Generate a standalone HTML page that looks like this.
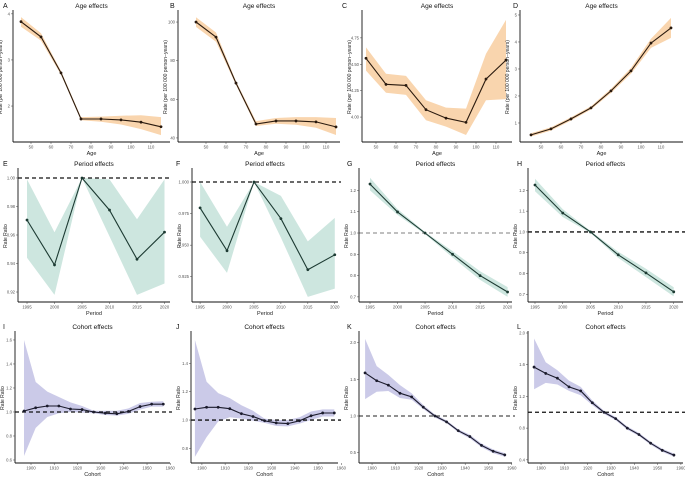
<!DOCTYPE html>
<html><head><meta charset="utf-8">
<style>
html,body{margin:0;padding:0;background:#fff;}
svg{display:block;font-family:"Liberation Sans",sans-serif;}
</style></head>
<body>
<svg id="fig" width="685" height="480" viewBox="0 0 685 480" xmlns="http://www.w3.org/2000/svg"></svg>
<script>
// ---- Age effects data ----
const ageCats=[45,55,65,75,85,95,105,115];
const ageTicks=[50,60,70,80,90,100,110];
const aY=[3.83,3.5,2.72,1.72,1.72,1.70,1.65,1.55];
const aLo=[3.72,3.42,2.68,1.69,1.66,1.60,1.50,1.37];
const aHi=[3.93,3.58,2.76,1.76,1.77,1.79,1.80,1.76];
const aYt=[2,3,4];
const bY=[100,92.2,68.4,47.2,48.8,48.8,48.3,45.7];
const bLo=[97.5,89.8,67.4,46.2,47.3,46.8,45.3,41.5];
const bHi=[102.5,94.6,69.4,48.7,50.3,50.8,50.8,50.3];
const bYt=[40,60,80,100];
const cY=[4.557,4.31,4.30,4.07,3.99,3.95,4.36,4.54];
const cLo=[4.44,4.23,4.21,3.97,3.91,3.83,4.16,4.17];
const cHi=[4.66,4.41,4.39,4.16,4.09,4.08,4.60,4.92];
const cYt=[4.00,4.25,4.50,4.75];
const dY=[0.56,0.78,1.15,1.56,2.19,2.93,3.96,4.52];
const dLo=[0.50,0.72,1.09,1.50,2.11,2.82,3.78,4.15];
const dHi=[0.62,0.84,1.21,1.62,2.27,3.04,4.12,4.89];
const dYt=[1,2,3,4,5];
// ---- Period effects data ----
const perCats=[1995,2000,2005,2010,2015,2020];
const perTicks=[1995,2000,2005,2010,2015,2020];
const eY=[0.9705,0.939,1.0,0.9775,0.943,0.962];
const eLo=[0.944,0.918,1.0,0.959,0.918,0.926];
const eHi=[0.999,0.962,1.0,0.999,0.971,0.999];
const eYt=[0.92,0.94,0.96,0.98,1.00];
const fY=[0.9795,0.9456,1.0,0.971,0.9306,0.9424];
const fLo=[0.9566,0.928,1.0,0.956,0.909,0.9156];
const fHi=[1.0,0.9645,1.0,0.989,0.953,0.9716];
const fYt=[0.925,0.950,0.975,1.000];
const gY=[1.23,1.099,1.0,0.90,0.80,0.723];
const gLo=[1.20,1.085,0.995,0.885,0.78,0.70];
const gHi=[1.26,1.113,1.005,0.915,0.82,0.746];
const gYt=[0.7,0.8,0.9,1.0,1.1,1.2];
const hY=[1.226,1.091,1.0,0.89,0.803,0.712];
const hLo=[1.196,1.072,0.995,0.875,0.783,0.69];
const hHi=[1.256,1.11,1.005,0.905,0.823,0.734];
const hYt=[0.7,0.8,0.9,1.0,1.1,1.2];
// ---- Cohort effects data ----
const cohCats=[1897,1902,1907,1912,1917,1922,1927,1932,1937,1942,1947,1952,1957];
const cohTicks=[1900,1910,1920,1930,1940,1950,1960];
const iY=[1.008,1.035,1.05,1.05,1.025,1.02,1.0,0.99,0.985,1.005,1.045,1.065,1.065];
const iLo=[0.633,0.867,0.958,0.99,1.0,0.995,0.99,0.975,0.97,0.985,1.02,1.045,1.045];
const iHi=[1.6,1.25,1.17,1.125,1.08,1.05,1.01,1.01,1.01,1.03,1.075,1.085,1.09];
const iYt=[0.6,0.8,1.0,1.2,1.4,1.6];
const jY=[1.078,1.09,1.09,1.08,1.045,1.025,0.995,0.98,0.975,0.995,1.03,1.05,1.05];
const jLo=[0.74,0.88,0.99,1.02,1.01,0.995,0.98,0.958,0.955,0.975,1.0,1.025,1.025];
const jHi=[1.565,1.27,1.19,1.155,1.105,1.065,1.01,1.0,1.0,1.02,1.06,1.075,1.075];
const jYt=[0.8,1.0,1.2,1.4];
const kY=[1.587,1.48,1.42,1.31,1.26,1.12,1.0,0.92,0.80,0.72,0.60,0.52,0.47];
const kLo=[1.23,1.33,1.34,1.245,1.22,1.095,0.98,0.9,0.78,0.695,0.575,0.495,0.445];
const kHi=[2.05,1.68,1.56,1.42,1.31,1.15,1.02,0.94,0.82,0.745,0.625,0.545,0.495];
const kYt=[0.5,1.0,1.5,2.0];
const lY=[1.57,1.49,1.43,1.32,1.27,1.12,1.0,0.92,0.80,0.72,0.61,0.52,0.46];
const lLo=[1.29,1.37,1.35,1.27,1.215,1.09,0.98,0.9,0.78,0.70,0.59,0.50,0.44];
const lHi=[1.93,1.63,1.53,1.40,1.32,1.15,1.02,0.94,0.82,0.74,0.63,0.54,0.48];
const lYt=[0.4,0.8,1.2,1.6,2.0];

const NS="http://www.w3.org/2000/svg";
const svg=document.getElementById('fig');
function mk(tag,attrs,parent){const e=document.createElementNS(NS,tag);for(const k in attrs)e.setAttribute(k,attrs[k]);(parent||svg).appendChild(e);return e;}

const ORANGE={band:'#f9d5ae',line:'#2a1a0e'};
const TEAL={band:'#cde6df',line:'#1c3a32'};
const PURP={band:'#cbcae8',line:'#1b1b2c'};
const AGEL='Rate (per 100 000 person−years)';

const panels=[
 {id:'a',letter:'A',title:'Age effects',L:13,R:170,T:12,B:142,xd:[41,119.5],yd:[1.22,4.04],xs:ageCats,y:aY,lo:aLo,hi:aHi,yt:aYt,xt:ageTicks,c:ORANGE,xl:'Age',yl:AGEL,lx:3,dash:null,fmt:v=>String(v)},
 {id:'b',letter:'B',title:'Age effects',L:178,R:340,T:12,B:142,xd:[36,117],yd:[37.9,105.2],xs:ageCats,y:bY,lo:bLo,hi:bHi,yt:bYt,xt:ageTicks,c:ORANGE,xl:'Age',yl:AGEL,lx:170,dash:null,fmt:v=>String(v)},
 {id:'c',letter:'C',title:'Age effects',L:362,R:512,T:12,B:142,xd:[43,118],yd:[3.764,4.995],xs:ageCats,y:cY,lo:cLo,hi:cHi,yt:cYt,xt:ageTicks,c:ORANGE,xl:'Age',yl:AGEL,lx:342,dash:null,fmt:v=>v.toFixed(2)},
 {id:'d',letter:'D',title:'Age effects',L:520,R:683,T:12,B:142,xd:[39.5,121],yd:[0.296,5.11],xs:ageCats,y:dY,lo:dLo,hi:dHi,yt:dYt,xt:ageTicks,c:ORANGE,xl:'Age',yl:AGEL,lx:513,dash:null,fmt:v=>String(v)},
 {id:'e',letter:'E',title:'Period effects',L:18,R:170,T:170,B:302,xd:[1993.36,2021],yd:[0.913,1.0056],xs:perCats,y:eY,lo:eLo,hi:eHi,yt:eYt,xt:perTicks,c:TEAL,xl:'Period',yl:'Rate Ratio',lx:3,dash:{v:1,col:'#111',w:1.3,to:172},fmt:v=>v.toFixed(2)},
 {id:'f',letter:'F',title:'Period effects',L:192,R:338,T:170,B:302,xd:[1993.5,2020.6],yd:[0.905,1.0095],xs:perCats,y:fY,lo:fLo,hi:fHi,yt:fYt,xt:perTicks,c:TEAL,xl:'Period',yl:'Rate Ratio',lx:176,dash:{v:1,col:'#111',w:1.3,to:341},fmt:v=>v.toFixed(3)},
 {id:'g',letter:'G',title:'Period effects',L:359,R:512,T:170,B:302,xd:[1993,2020.8],yd:[0.676,1.296],xs:perCats,y:gY,lo:gLo,hi:gHi,yt:gYt,xt:perTicks,c:TEAL,xl:'Period',yl:'Rate Ratio',lx:347,dash:{v:1,col:'#999',w:1.2,to:515},fmt:v=>v.toFixed(1)},
 {id:'h',letter:'H',title:'Period effects',L:528,R:683,T:170,B:302,xd:[1993.74,2021.67],yd:[0.663,1.298],xs:perCats,y:hY,lo:hLo,hi:hHi,yt:hYt,xt:perTicks,c:TEAL,xl:'Period',yl:'Rate Ratio',lx:517,dash:{v:1,col:'#111',w:1.3,to:685},fmt:v=>v.toFixed(1)},
 {id:'i',letter:'I',title:'Cohort effects',L:15,R:170,T:333,B:463,xd:[1893.1,1959.9],yd:[0.575,1.658],xs:cohCats,y:iY,lo:iLo,hi:iHi,yt:iYt,xt:cohTicks,c:PURP,xl:'Cohort',yl:'Rate Ratio',lx:3,dash:{v:1,col:'#111',w:1.3,to:172},fmt:v=>v.toFixed(1)},
 {id:'j',letter:'J',title:'Cohort effects',L:191,R:338,T:333,B:463,xd:[1895.3,1958.6],yd:[0.697,1.614],xs:cohCats,y:jY,lo:jLo,hi:jHi,yt:jYt,xt:cohTicks,c:PURP,xl:'Cohort',yl:'Rate Ratio',lx:176,dash:{v:1,col:'#111',w:1.3,to:341},fmt:v=>v.toFixed(1)},
 {id:'k',letter:'K',title:'Cohort effects',L:359,R:512,T:333,B:463,xd:[1894.4,1960.1],yd:[0.36,2.13],xs:cohCats,y:kY,lo:kLo,hi:kHi,yt:kYt,xt:cohTicks,c:PURP,xl:'Cohort',yl:'Rate Ratio',lx:347,dash:{v:1,col:'#222',w:0.9,to:515},fmt:v=>v.toFixed(1)},
 {id:'l',letter:'L',title:'Cohort effects',L:528,R:683,T:333,B:463,xd:[1894.4,1960.9],yd:[0.36,2.0],xs:cohCats,y:lY,lo:lLo,hi:lHi,yt:lYt,xt:cohTicks,c:PURP,xl:'Cohort',yl:'Rate Ratio',lx:517,dash:{v:1,col:'#111',w:1.3,to:685},fmt:v=>v.toFixed(1)}
];

panels.forEach(p=>{
  const g=mk('g',{});
  
  
  const sx=v=>p.L+(v-p.xd[0])/(p.xd[1]-p.xd[0])*(p.R-p.L);
  const sy=v=>p.B-(v-p.yd[0])/(p.yd[1]-p.yd[0])*(p.B-p.T);
  // letter and title
  const lt=mk('text',{x:p.lx,y:p.T-4,'font-size':7,fill:'#111'},g);lt.textContent=p.letter;
  
  
  const tt=mk('text',{x:(p.L+p.R)/2,y:p.T-4,'font-size':6.5,fill:'#111','text-anchor':'middle'},g);tt.textContent=p.title;
  
  
  // band
  let d='';
  p.xs.forEach((x,i)=>{d+=(i?'L':'M')+sx(x).toFixed(1)+','+sy(p.hi[i]).toFixed(1);});
  for(let i=p.xs.length-1;i>=0;i--)d+='L'+sx(p.xs[i]).toFixed(1)+','+sy(p.lo[i]).toFixed(1);
  const band=mk('path',{d:d+'Z',fill:p.c.band,stroke:'none'},g);
  
  
  // dashed reference
  if(p.dash){
    const dl=mk('line',{x1:p.L,x2:p.dash.to,y1:sy(p.dash.v),y2:sy(p.dash.v),stroke:p.dash.col,'stroke-width':p.dash.w,'stroke-dasharray':'4,3'},g);
    
    
  }
  // line
  const pts=p.xs.map((x,i)=>sx(x).toFixed(1)+','+sy(p.y[i]).toFixed(1)).join(' ');
  const ln=mk('polyline',{points:pts,fill:'none',stroke:p.c.line,'stroke-width':1.1},g);
  
  
  p.xs.forEach((x,i)=>{
    const c=mk('circle',{cx:sx(x),cy:sy(p.y[i]),r:1.4,fill:p.c.line},g);
    
    
  });
  // axes
  const ya=mk('line',{x1:p.L,x2:p.L,y1:p.T-2,y2:p.B,stroke:'#111','stroke-width':0.9},g);
  
  
  const xa=mk('line',{x1:p.L,x2:p.R,y1:p.B,y2:p.B,stroke:'#111','stroke-width':0.9},g);
  
  
  p.yt.forEach(v=>{
    const y=sy(v);
    mk('line',{x1:p.L-2,x2:p.L,y1:y,y2:y,stroke:'#444','stroke-width':0.5},g);
    const t=mk('text',{x:p.L-3,y:y+1.5,'font-size':4.2,fill:'#555','text-anchor':'end'},g);t.textContent=p.fmt(v);
    
    
  });
  p.xt.forEach(v=>{
    const x=sx(v);
    mk('line',{x1:x,x2:x,y1:p.B,y2:p.B+2,stroke:'#444','stroke-width':0.5},g);
    const t=mk('text',{x:x,y:p.B+6.5,'font-size':4.2,fill:'#555','text-anchor':'middle'},g);t.textContent=String(v);
    
    
  });
  const xl=mk('text',{x:(p.L+p.R)/2,y:p.B+13,'font-size':5.5,fill:'#222','text-anchor':'middle'},g);xl.textContent=p.xl;
  
  
  const ylx=p.L-11, yly=(p.T+p.B)/2;
  const yl=mk('text',{x:ylx,y:yly,'font-size':5,fill:'#222','text-anchor':'middle',transform:'rotate(-90 '+ylx+' '+yly+')'},g);yl.textContent=p.yl;
  
  
});
</script>
</body></html>
